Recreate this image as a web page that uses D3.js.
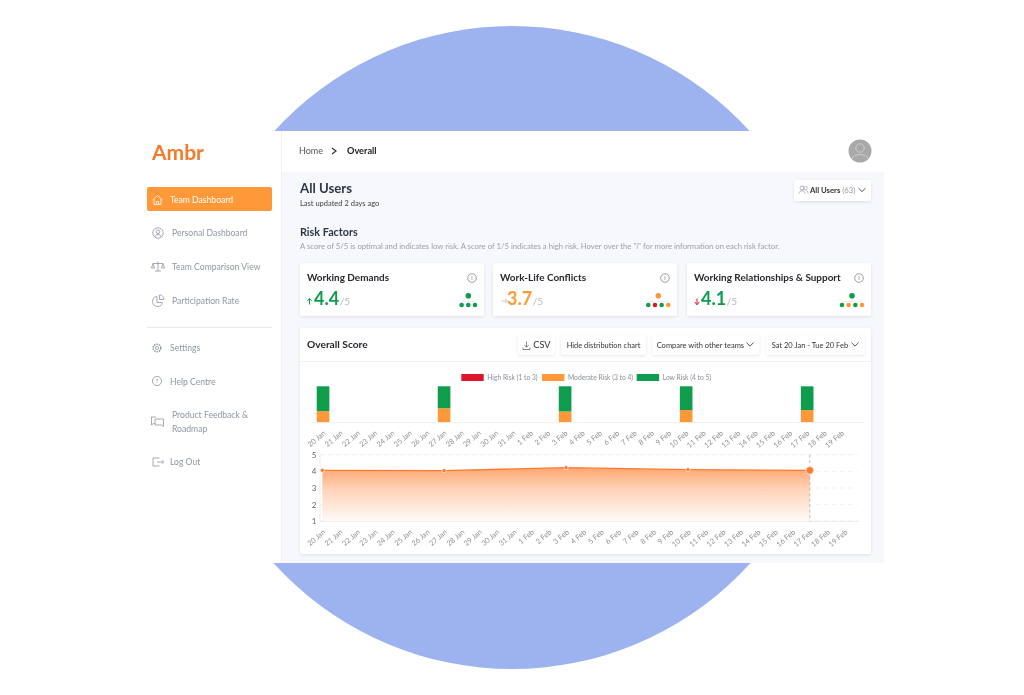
<!DOCTYPE html>
<html><head><meta charset="utf-8">
<script src="https://d3js.org/d3.v7.min.js"></script>
<style>
html,body{margin:0;padding:0;background:#fff}
svg{display:block;filter:blur(0.4px)}
text{font-family:Lato,"Open Sans",sans-serif}
</style></head><body>
<svg id="c" width="1024" height="695"></svg>
<script>
const dayLabels=["20 Jan","21 Jan","22 Jan","23 Jan","24 Jan","25 Jan","26 Jan","27 Jan","28 Jan","29 Jan","30 Jan","31 Jan","1 Feb","2 Feb","3 Feb","4 Feb","5 Feb","6 Feb","7 Feb","8 Feb","9 Feb","10 Feb","11 Feb","12 Feb","13 Feb","14 Feb","15 Feb","16 Feb","17 Feb","18 Feb","19 Feb"];
const sampleDays=["20 Jan","27 Jan","3 Feb","10 Feb","17 Feb"];
const moderateShare=[31,39,30,34,34];
const lowShare=[69,61,70,66,66];
const highShare=[0,0,0,0,0];
const overallScore=[4.06,4.04,4.22,4.1,4.06];
const scoreTicks=[1,2,3,4,5];
const legendLabels=["High Risk (1 to 3)","Moderate Risk (3 to 4)","Low Risk (4 to 5)"];
const cardTitles=["Working Demands","Work-Life Conflicts","Working Relationships & Support"];
const cardScores=["4.4","3.7","4.1"];
const navTop=["Team Dashboard","Personal Dashboard","Team Comparison View","Participation Rate"];
const navBottom=["Settings","Help Centre","Log Out"];

const GREEN="#0f9d4d",ORANGE="#ff9838",RED="#e0162b",LINE="#ff7a30",GREY="#8f96a3",INK="#2a2f3a";
const svg=d3.select("#c");
const defs=svg.append("defs");
const grad=defs.append("linearGradient").attr("id","ag").attr("x1",0).attr("x2",0).attr("y1",0).attr("y2",1);
grad.append("stop").attr("offset","0").attr("stop-color","#ffa670");
grad.append("stop").attr("offset","0.4").attr("stop-color","#ffd3b8");
grad.append("stop").attr("offset","1").attr("stop-color","#fffaf7");
const sh=defs.append("filter").attr("id","sh").attr("x","-10%").attr("y","-20%").attr("width","120%").attr("height","140%");
sh.append("feDropShadow").attr("dx",0).attr("dy",1).attr("stdDeviation",1.4).attr("flood-color","#000").attr("flood-opacity",0.1);

function T(x,y,s,size,fill,weight,anchor){return svg.append("text").attr("x",x).attr("y",y).attr("font-size",size).attr("fill",fill).attr("font-weight",weight||400).attr("text-anchor",anchor||"start").text(s);}
function R(x,y,w,h,fill,r){return svg.append("rect").attr("x",x).attr("y",y).attr("width",w).attr("height",h).attr("fill",fill).attr("rx",r||0);}
function card(x,y,w,h,r){return R(x,y,w,h,"#fff",r||2).attr("filter","url(#sh)");}
function chev(x,y,c){svg.append("path").attr("d",`M${x-3.5},${y-1.8}L${x},${y+1.6}L${x+3.5},${y-1.8}`).attr("fill","none").attr("stroke",c||"#444").attr("stroke-width",.9);}
function P(d,c,w){return svg.append("path").attr("d",d).attr("fill","none").attr("stroke",c||GREY).attr("stroke-width",w||.8);}
function C(x,y,r,c,w){return svg.append("circle").attr("cx",x).attr("cy",y).attr("r",r).attr("fill","none").attr("stroke",c||GREY).attr("stroke-width",w||.8);}

// backdrop
svg.append("circle").attr("cx",512).attr("cy",347.5).attr("r",321.5).attr("fill","#9db3f0");
R(130,131,754,432,"#fff");
R(282,172,602,391,"#f7f8fb");
svg.append("line").attr("x1",281.5).attr("x2",281.5).attr("y1",131).attr("y2",563).attr("stroke","#f0f1f4");

// sidebar
T(152,159.5,"Ambr",21,"#f47a2c",700);
R(147,187,125,24,ORANGE,2);
const NAV=8.6;
T(170,203,navTop[0],NAV,"#fff",400);
P("M152.5,200L157.5,195.5L162.5,200M154,199V204.5H161V199M156.3,204.5V201.5H158.7V204.5","#fff",.8);
T(172,236.2,navTop[1],NAV,GREY);
C(158,233,5.2);C(158,231.8,1.8);P("M154.8,236.8C155.5,233.8 160.5,233.8 161.2,236.8");
T(172,269.8,navTop[2],NAV,GREY);
P("M158,261.5V271M155,271H161M153,263.5H163M153,263.5L151.5,268H154.5ZM163,263.5L161.5,268H164.5Z");
T(172,303.6,navTop[3],NAV,GREY);
P("M157,296.5A5,5 0 1 0 162.5,302.5H157Z");P("M159.5,295A4,4 0 0 1 163.8,299.5H159.5Z");
R(147,327,125,1,"#e7e9ee");
T(170,351.3,navBottom[0],NAV,GREY);
C(157,348,1.6);svg.append("circle").attr("cx",157).attr("cy",348).attr("r",3.8).attr("fill","none").attr("stroke",GREY).attr("stroke-width",1.5).attr("stroke-dasharray","1.5 .9");
T(170,384.8,navBottom[1],NAV,GREY);
C(157,381,4.6);T(157,383.4,"?",6.5,GREY,400,"middle");
T(172,418.3,"Product Feedback &",NAV,GREY);
T(172,431.8,"Roadmap",NAV,GREY);
P("M156,417H151.5V425L153.5,423.5H155M155,419H163.5V426.5L161.5,425H155Z");
T(170,465.3,navBottom[2],NAV,GREY);
P("M159.5,458H153V466H159.5M157,462H163.5M161.7,460.2L163.6,462L161.7,463.8");

// header
T(299,154,"Home",9,"#555");
P("M332,148L336,151L332,154","#333",1.2);
T(347,154,"Overall",9.2,"#222",700);
svg.append("circle").attr("cx",860).attr("cy",151).attr("r",11.5).attr("fill","#a9a9a9");
C(860,148,4.2,"#ccc",1);
P("M852,159C853,153 867,153 868,159","#ccc",1);

T(300,193,"All Users",13.2,"#2d3748",700);
T(300,206,"Last updated 2 days ago",7.5,"#444");
T(300,236,"Risk Factors",10.8,"#2d3748",700);
T(300,249,"A score of 5/5 is optimal and indicates low risk. A score of 1/5 indicates a high risk. Hover over the \"i\" for more information on each risk factor.",7.73,"#9aa0ab");
card(794,180,77,21,2);
C(802,188,2,GREY,.7);C(805.5,188,1.7,GREY,.6);
P("M799,193.5C799,189.8 805,189.8 805,193.5M805.5,190.5C807.5,190.5 808,192 808,193.5",GREY,.7);
const au=T(810,193,"All Users ",7.7,"#333",700);
au.append("tspan").attr("fill","#8f96a3").attr("font-weight",400).text("(63)");
chev(862,190);

// risk cards
const cx=[300,493,687],cw=[184,184,184];
const scoreCol=[GREEN,ORANGE,GREEN];
const arrow=[["M309.5,304.5V298.5M307.3,301L309.5,298.5L311.7,301",GREEN],["M501.5,301H507M505,299L507.5,301L505,303","#c5c8ce"],["M697,298.5V304.5M694.8,302L697,304.8L699.2,302",RED]];
const dots=[{top:GREEN,bot:[GREEN,GREEN,GREEN],x:468.3},{top:ORANGE,bot:[GREEN,RED,GREEN,ORANGE],x:658.3},{top:GREEN,bot:[GREEN,ORANGE,GREEN,ORANGE],x:852}];
cardTitles.forEach((t,i)=>{
  card(cx[i],263.3,cw[i],52.4,2);
  T(cx[i]+7,281,t,9.95,"#26282e",700);
  const ix=cx[i]+172;
  C(ix,278,4.3,"#777",.7);
  T(ix,280.4,"i",6,"#777",400,"middle");
  P(arrow[i][0],arrow[i][1],1);
  const val=T(cx[i]+14,305,cardScores[i],18,scoreCol[i],700);
  val.append("tspan").attr("font-size",10).attr("dx",.5).attr("font-weight",400).attr("fill","#b5b9c1").text("/5");
  const d=dots[i],n=d.bot.length,gap=6.67,x0=d.x-(n-1)*gap/2;
  P(`M${x0},305V301.5H${x0+(n-1)*gap}V305M${d.x},296V301.5`,"#e4e6ea",.6);
  svg.append("circle").attr("cx",d.x).attr("cy",295.7).attr("r",2.8).attr("fill",d.top);
  d.bot.forEach((c,j)=>svg.append("circle").attr("cx",x0+j*gap).attr("cy",305).attr("r",2.3).attr("fill",c));
});

// overall card
card(300,328,571,226,2);
T(307,348,"Overall Score",10.2,"#26282e",700);
[[518,36.5,"CSV",533.3,9.2],[561,85,"Hide distribution chart",566.7,7.45],[652.3,107,"Compare with other teams",656.7,7.5],[766.7,97.6,"Sat 20 Jan - Tue 20 Feb",771.7,7.5]].forEach(b=>{
  card(b[0],334.7,b[1],20,2);
  T(b[3],348,b[2],b[4],"#333",400);
});
P("M526.5,341.5V347M524.3,345L526.5,347.3L528.7,345M523,347.5V349.5H530V347.5","#555",.7);
chev(750,344.5);chev(855,344.5);
R(300,361,571,1,"#f1f2f5");

// legend
const lx=[461.3,542,636.7],lc=[RED,ORANGE,GREEN];
legendLabels.forEach((l,i)=>{
  R(lx[i],374,22.4,7,lc[i]);
  T(lx[i]+26,380.2,l,6.7,"#8a8f99");
});

// distribution bars
const x1=d3.scaleBand().domain(dayLabels).range([314.4,850.4]).paddingInner(0.27).paddingOuter(0.135);
const y1=d3.scaleLinear().domain([0,100]).range([422.3,386.3]);
const stack=d3.stack().keys(["moderate","low","high"])(sampleDays.map((d,i)=>({day:d,moderate:moderateShare[i],low:lowShare[i],high:highShare[i]})));
const sc={moderate:ORANGE,low:GREEN,high:RED};
svg.append("g").selectAll("g").data(stack).join("g").attr("fill",s=>sc[s.key])
 .selectAll("rect").data(s=>s).join("rect")
 .attr("x",d=>x1(d.data.day)).attr("width",x1.bandwidth())
 .attr("y",d=>y1(d[1])).attr("height",d=>y1(d[0])-y1(d[1]));
R(312,422.3,552.7,.8,"#eceef1");
const axA=svg.append("g").attr("transform","translate(0,429)").call(d3.axisBottom(x1).tickSize(0).tickPadding(0));
axA.select(".domain").remove();
axA.selectAll("text").attr("font-size",7.3).attr("fill","#8e8e8e").attr("text-anchor","end").attr("dy",0).attr("dx",0)
 .attr("transform","translate(3,5) rotate(-40)");

// score chart
const x2=d3.scalePoint().domain(dayLabels).range([322.3,322.3+30*17.41]);
const y2=d3.scaleLinear().domain([1,5]).range([521.3,454.7]);
const g=svg.append("g");
scoreTicks.forEach(t=>{
  g.append("line").attr("x1",320).attr("x2",857).attr("y1",y2(t)).attr("y2",y2(t)).attr("stroke","#e6e7ea").attr("stroke-width",.7).attr("stroke-dasharray","4 4");
});
g.append("line").attr("x1",320).attr("x2",320).attr("y1",454.7).attr("y2",521.3).attr("stroke","#eceef1");
g.append("line").attr("x1",320).attr("x2",859).attr("y1",521.3).attr("y2",521.3).attr("stroke","#e3e4e8").attr("stroke-width",.7);
const pts=sampleDays.map((d,i)=>({day:d,v:overallScore[i]}));
g.append("path").datum(pts).attr("fill","url(#ag)").attr("d",d3.area().x(d=>x2(d.day)).y0(y2(1)).y1(d=>y2(d.v)));
g.append("path").datum(pts).attr("fill","none").attr("stroke",LINE).attr("stroke-width",1.3).attr("d",d3.line().x(d=>x2(d.day)).y(d=>y2(d.v)));
g.append("line").attr("x1",x2("17 Feb")).attr("x2",x2("17 Feb")).attr("y1",454.7).attr("y2",521.3).attr("stroke","#c9a48c").attr("stroke-width",.8).attr("stroke-dasharray","3 2.5");
g.selectAll("circle").data(pts).join("circle").attr("cx",d=>x2(d.day)).attr("cy",d=>y2(d.v))
 .attr("r",(d,i)=>i===pts.length-1?3.9:2.1).attr("fill",LINE).attr("stroke","#fff").attr("stroke-width",.7);
const ayy=svg.append("g").attr("transform","translate(316.5,0)").call(d3.axisLeft(y2).tickValues(scoreTicks).tickFormat(d3.format("d")).tickSize(0).tickPadding(0));
ayy.select(".domain").remove();
ayy.selectAll("text").attr("font-size",8).attr("fill","#666").attr("dy","0.33em");
const axB=svg.append("g").attr("transform","translate(0,528)").call(d3.axisBottom(x2).tickSize(0).tickPadding(0));
axB.select(".domain").remove();
axB.selectAll("text").attr("font-size",7.3).attr("fill","#8e8e8e").attr("text-anchor","end").attr("dy",0).attr("dx",0)
 .attr("transform","translate(3,5) rotate(-40)");
</script></body></html>
